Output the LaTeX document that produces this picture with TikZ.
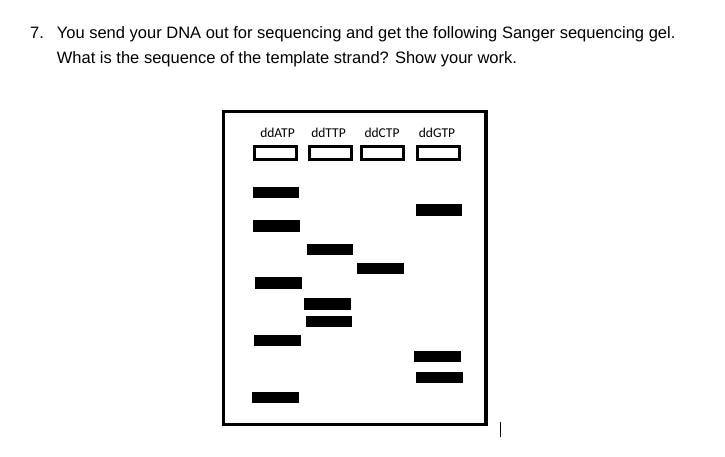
\documentclass[tikz,border=0pt]{standalone}
\usepackage{fontspec}
\setmainfont{Liberation Sans}
\newfontfamily\calfont{Carlito}
\begin{document}
\begin{tikzpicture}[x=1pt,y=-1pt,
  qtext/.style={anchor=base west,inner sep=0pt,font=\fontsize{16.5}{25}\selectfont},
  lanelabel/.style={anchor=base,inner sep=0pt,font=\calfont\fontsize{13.5}{16}\selectfont},
  well/.style={draw,line width=3pt,minimum width=42pt,minimum height=13pt,inner sep=0pt},
  band/.style={fill=black,minimum width=46.7pt,minimum height=11.5pt,inner sep=0pt}]
\useasboundingbox (0,0) rectangle (725,456);
% question text
\node[qtext] (num) at (30,38.3) {7.};
\node[qtext] (l1) at (56.7,38.3) {You send your DNA out for sequencing and get the following Sanger sequencing gel.};
\node[qtext] (l2) at (56.7,63.3) {What is the sequence of the template strand? Show your work.};
% gel frame
\draw[line width=3.5pt] (223.5,111.5) rectangle (486,424.5);
% lane labels
\node[lanelabel] (labA) at (277.5,137) {ddATP};
\node[lanelabel] (labT) at (328.5,137) {ddTTP};
\node[lanelabel] (labC) at (382,137) {ddCTP};
\node[lanelabel] (labG) at (437,137) {ddGTP};
% wells
\node[well] (wA) at (275.5,153) {};
\node[well] (wT) at (330.8,153) {};
\node[well] (wC) at (382.3,153) {};
\node[well] (wG) at (438.2,153) {};
% bands
\node[band] (a1) at (276,192.5) {};
\node[band] (a2) at (276.7,225.8) {};
\node[band] (a3) at (278.3,283) {};
\node[band] (a4) at (277.3,340.5) {};
\node[band] (a5) at (275.7,397.3) {};
\node[band] (t1) at (330,249.7) {};
\node[band] (t2) at (327.7,304.2) {};
\node[band] (t3) at (329,321.5) {};
\node[band] (c1) at (380.7,268.3) {};
\node[band] (g1) at (439,209.8) {};
\node[band] (g2) at (437.7,356.7) {};
\node[band] (g3) at (439.3,377.3) {};
% cursor mark
\coordinate (curtop) at (500.7,421.7);
\coordinate (curbot) at (500.7,436.7);
\draw[line width=1pt] (curtop) -- (curbot);
\end{tikzpicture}
\end{document}
